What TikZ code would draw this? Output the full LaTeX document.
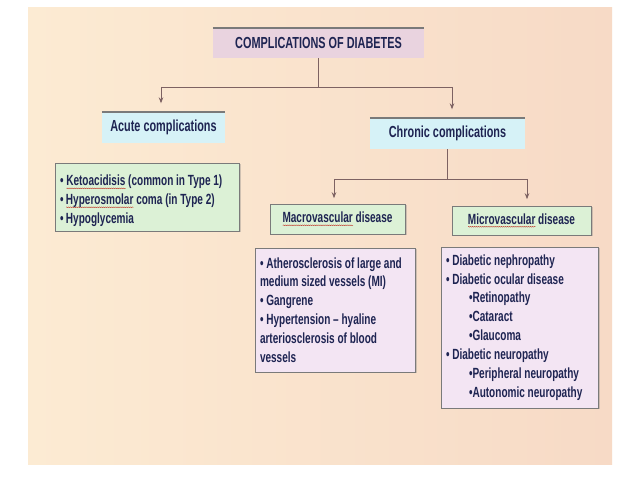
\documentclass[tikz,border=0pt]{standalone}
\usepackage{fontspec}
\setmainfont{Liberation Sans}[FakeStretch=0.68]
\usepackage{xcolor}
\usepackage{tikz}
\usetikzlibrary{arrows.meta,shadows,decorations.pathmorphing}
\definecolor{pagecream}{HTML}{FCEBD3}
\definecolor{pagepeach}{HTML}{F7DAC6}
\definecolor{titlepink}{HTML}{E9D3DF}
\definecolor{headcyan}{HTML}{D6F2F7}
\definecolor{itemgreen}{HTML}{DCF1D6}
\definecolor{itemlilac}{HTML}{F3E5F3}
\definecolor{textnavy}{HTML}{1E2452}
\definecolor{linebrown}{HTML}{7D6262}
\definecolor{edgegray}{HTML}{7A7A7A}
\definecolor{wavered}{HTML}{C0392B}
\newsavebox{\wavebox}
\newcommand{\spellwave}[1]{%
  \sbox{\wavebox}{#1}%
  \rlap{\tikz[baseline=0pt]\draw[wavered, line width=0.45pt, decorate,
    decoration={snake, amplitude=0.45pt, segment length=2.2pt}]
    (0,-2.8pt) -- (\wd\wavebox,-2.8pt);}%
  \usebox{\wavebox}}
\tikzset{
  >={Stealth[length=2.4mm,width=1.8mm]},
  line/.style={draw=linebrown, line width=0.9pt},
  arrowline/.style={line, ->},
  topline/.style={draw=edgegray, line width=2pt},
  head/.style={
    text=textnavy,
    font=\fontsize{18.2}{21}\selectfont\bfseries,
    inner sep=0pt,
    minimum height=1.24cm
  },
  box/.style={
    draw=edgegray,
    line width=0.6pt,
    drop shadow={shadow xshift=0.6mm, shadow yshift=-0.6mm, opacity=0.35},
    text=textnavy,
    align=flush left,
    font=\fontsize{16.8}{21.5}\selectfont\bfseries,
    inner xsep=0.2cm,
    inner ysep=0pt
  }
}
\begin{document}
\begin{tikzpicture}[x=1cm,y=1cm]
  \path[use as bounding box] (0,0) rectangle (25.52,19.12);
  \fill[white] (0,0) rectangle (25.52,19.12);
  \shade[left color=pagecream, right color=pagepeach] (1.12,0.52) rectangle (24.48,18.8);

  \node[head, fill=titlepink, minimum width=8.44cm, minimum height=1.2cm] (title) at (12.74,17.4)
    {COMPLICATIONS OF DIABETES};
  \node[head, fill=headcyan, minimum width=4.92cm] (acute) at (6.54,14.02)
    {Acute complications};
  \node[head, fill=headcyan, minimum width=6.2cm] (chronic) at (17.9,13.78)
    {Chronic complications};

  \node[box, fill=itemgreen, text width=6.96cm, minimum height=2.72cm] (acutelist) at (5.88,11.24)
    {\rule{0pt}{0.75cm}\textbullet\ \spellwave{Ketoacidisis} (common in Type 1)\\
     \textbullet\,\spellwave{Hyperosmolar} coma (in Type 2)\\
     \textbullet\,Hypoglycemia};

  \node[box, fill=itemgreen, align=center, minimum width=5.4cm, minimum height=1.2cm] (macro) at (13.5,10.36)
    {\spellwave{Macrovascular} disease};
  \node[box, fill=itemgreen, align=center, minimum width=5.56cm, minimum height=1.16cm] (micro) at (20.86,10.3)
    {\spellwave{Microvascular} disease};

  \node[box, fill=itemlilac, text width=6.0cm, minimum height=4.96cm] (macrolist) at (13.4,6.72)
    {\textbullet\ Atherosclerosis of large and\\
     medium sized vessels (MI)\\
     \textbullet\ Gangrene\\
     \textbullet\ Hypertension -- hyaline\\
     arteriosclerosis of blood\\
     vessels};
  \node[box, fill=itemlilac, text width=5.88cm, minimum height=6.44cm] (microlist) at (20.78,6.02)
    {\textbullet\ Diabetic nephropathy\\
     \textbullet\ Diabetic ocular disease\\
     \hspace*{0.92cm}\textbullet Retinopathy\\
     \hspace*{0.92cm}\textbullet Cataract\\
     \hspace*{0.92cm}\textbullet Glaucoma\\
     \textbullet\ Diabetic neuropathy\\
     \hspace*{0.92cm}\textbullet Peripheral neuropathy\\
     \hspace*{0.92cm}\textbullet Autonomic neuropathy};

  \foreach \n in {title,acute,chronic}
    \draw[topline] (\n.north west) -- (\n.north east);

  \coordinate (forkl) at (6.44,15.64);
  \coordinate (forkr) at (18.08,15.64);
  \draw[line] (title.south) -- (title.south |- forkl);
  \draw[line] (forkl) -- (forkr);
  \draw[arrowline, shorten >=3.4mm] (forkl) -- (forkl |- acute.north);
  \draw[arrowline, shorten >=3.4mm] (forkr) -- (forkr |- chronic.north);

  \coordinate (subl) at (13.36,11.96);
  \coordinate (subr) at (21.08,11.96);
  \draw[line] (chronic.south) -- (chronic.south |- subl);
  \draw[line] (subl) -- (subr);
  \draw[arrowline, shorten >=2.2mm] (subl) -- (subl |- macro.north);
  \draw[arrowline, shorten >=2.6mm] (subr) -- (subr |- micro.north);
\end{tikzpicture}
\end{document}
